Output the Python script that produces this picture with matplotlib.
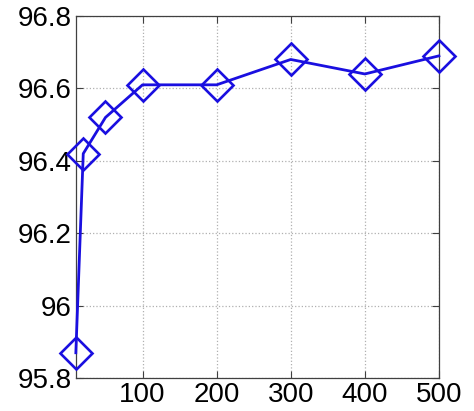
import matplotlib
matplotlib.use('Agg')
import matplotlib.pyplot as plt

# values
x_vals = [10, 20, 50, 100, 200, 300, 400, 500]
y_vals = [95.87, 96.42, 96.52, 96.61, 96.61, 96.68, 96.64, 96.69]
x_ticks = [100, 200, 300, 400, 500]
y_ticks = [95.8, 96.0, 96.2, 96.4, 96.6, 96.8]
y_tick_labels = ['95.8', '96', '96.2', '96.4', '96.6', '96.8']

plt.rcParams['font.family'] = ['Liberation Sans', 'DejaVu Sans']

fig = plt.figure(figsize=(4.74, 4.11), dpi=100)
ax = fig.add_axes([0.160, 0.080, 0.766, 0.881])

ax.plot(x_vals, y_vals, '-', color='#1a0fe0', lw=2.0,
        marker='D', markersize=16, markerfacecolor='none',
        markeredgecolor='#1a0fe0', markeredgewidth=1.9, clip_on=False, zorder=3)

ax.set_xlim(10, 500)
ax.set_ylim(95.8, 96.8)
ax.set_xticks(x_ticks)
ax.set_yticks(y_ticks)
ax.set_yticklabels(y_tick_labels)

ax.grid(True, linestyle=':', color='#b0b0b0', lw=0.9)
ax.tick_params(direction='in', length=5, width=0.8, labelsize=20, pad=3,
               top=True, right=True, colors='#404040', labelcolor='black')
for s in ax.spines.values():
    s.set_color('#404040')
    s.set_linewidth(0.9)

fig.savefig('out.png', dpi=100)
